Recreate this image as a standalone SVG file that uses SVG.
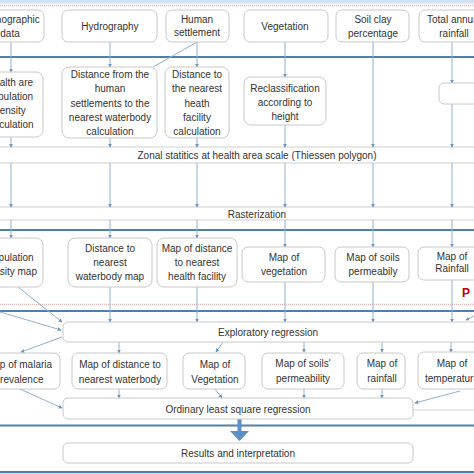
<svg xmlns="http://www.w3.org/2000/svg" width="474" height="474" viewBox="0 0 474 474">
<style>
.bg{fill:#ffffff}
.box{fill:#ffffff;stroke:#c8c8c8;stroke-width:1}
.bar{fill:#ffffff;stroke:#d0d0d0;stroke-width:1}
.div{stroke:#4f7fae;stroke-width:2;fill:none}
.dot{stroke:#d9b8b8;stroke-width:1.5;stroke-dasharray:1 1;fill:none}
.t{font-family:"Liberation Sans",Arial,sans-serif;font-size:10px;fill:#333333;text-anchor:middle}
.c{stroke:#8fb0d0;stroke-width:1;fill:none}
.ca{stroke:#8fb0d0;stroke-width:1;fill:none;marker-end:url(#ah)}
</style>
<defs>
<marker id="ah" viewBox="0 0 6 6" refX="5" refY="3" markerWidth="4" markerHeight="4" orient="auto">
<path d="M0,0 L6,3 L0,6 z" fill="#6f95bd"/>
</marker>
</defs>
<rect class="bg" x="0" y="0" width="474" height="474"/>
<rect x="0" y="0" width="474" height="3.5" fill="#d3e3f1"/>
<line class="dot" x1="0" y1="5.5" x2="474" y2="5.5"/>
<line class="div" x1="0" y1="57" x2="474" y2="57"/>
<line class="div" x1="0" y1="230" x2="474" y2="230"/>
<line class="dot" x1="0" y1="304.5" x2="474" y2="304.5"/>
<line class="div" x1="0" y1="311" x2="474" y2="311"/>
<line class="div" x1="0" y1="425.5" x2="474" y2="425.5"/>
<line class="div" x1="0" y1="472" x2="474" y2="472"/>
<rect x="0" y="473" width="474" height="1" fill="#d3e3f1"/>

<g id="zonal">
<rect class="bar" x="-5" y="147" width="484" height="16"/>
<text class="t" x="257" y="159">Zonal statitics at health area scale (Thiessen polygon)</text>
</g>
<g id="rasterization">
<rect class="bar" x="-5" y="207" width="484" height="13"/>
<text class="t" x="257" y="217.5">Rasterization</text>
</g>

<g id="connectors">
<line class="ca" x1="11" y1="42" x2="11" y2="72"/>
<line class="ca" x1="110" y1="42" x2="110" y2="67"/>
<line class="ca" x1="197" y1="42" x2="197" y2="67"/>
<line class="c" x1="197" y1="42" x2="153" y2="67"/>
<line class="ca" x1="285" y1="42" x2="285" y2="77"/>
<line class="ca" x1="373" y1="42" x2="373" y2="147"/>
<line class="ca" x1="452" y1="42" x2="452" y2="83"/>
<line class="ca" x1="452" y1="104" x2="452" y2="147"/>
<line class="ca" x1="11" y1="137" x2="11" y2="147"/>
<line class="ca" x1="110" y1="138" x2="110" y2="147"/>
<line class="ca" x1="197" y1="138" x2="197" y2="147"/>
<line class="ca" x1="285" y1="125" x2="285" y2="147"/>
<line class="ca" x1="11" y1="163" x2="11" y2="207"/>
<line class="ca" x1="110" y1="163" x2="110" y2="207"/>
<line class="ca" x1="197" y1="163" x2="197" y2="207"/>
<line class="ca" x1="285" y1="163" x2="285" y2="207"/>
<line class="ca" x1="373" y1="163" x2="373" y2="207"/>
<line class="ca" x1="452" y1="163" x2="452" y2="207"/>
<line class="ca" x1="11" y1="220" x2="11" y2="238"/>
<line class="ca" x1="110" y1="220" x2="110" y2="238"/>
<line class="ca" x1="197" y1="220" x2="197" y2="238"/>
<line class="ca" x1="285" y1="220" x2="285" y2="247"/>
<line class="ca" x1="373" y1="220" x2="373" y2="247"/>
<line class="ca" x1="452" y1="220" x2="452" y2="247"/>
<line class="ca" x1="110" y1="287" x2="110" y2="322"/>
<line class="ca" x1="197" y1="287" x2="197" y2="322"/>
<line class="ca" x1="285" y1="282" x2="285" y2="322"/>
<line class="ca" x1="373" y1="282" x2="373" y2="322"/>
<line class="ca" x1="452" y1="280" x2="452" y2="322"/>
<line class="ca" x1="18" y1="287" x2="62" y2="322"/>
<line class="ca" x1="0" y1="312" x2="61" y2="330"/>
<line class="ca" x1="476" y1="315" x2="466" y2="320"/>
<line class="ca" x1="62" y1="337" x2="21" y2="352"/>
<line class="ca" x1="119" y1="342" x2="119" y2="353"/>
<line class="ca" x1="223" y1="342" x2="216" y2="352"/>
<line class="ca" x1="304" y1="342" x2="304" y2="352"/>
<line class="ca" x1="382" y1="342" x2="382" y2="352"/>
<line class="ca" x1="451" y1="342" x2="451" y2="352"/>
<line class="ca" x1="20" y1="389" x2="62" y2="408"/>
<line class="ca" x1="119" y1="389" x2="119" y2="398"/>
<line class="ca" x1="215" y1="389" x2="222" y2="398"/>
<line class="ca" x1="304" y1="389" x2="304" y2="398"/>
<line class="ca" x1="382" y1="389" x2="382" y2="398"/>
<line class="ca" x1="460" y1="391" x2="415" y2="403"/>
<line x1="413" y1="410" x2="474" y2="410" stroke="#d0d0d0" stroke-width="1"/>
<path d="M237.5,419 h4 v12 h7.5 l-9.5,10 l-9.5,-10 h7.5 z" fill="#5b8fc7"/>
</g>

<g id="n-demographic">
<rect class="box" x="-25" y="10" width="69" height="32" rx="6"/>
<text class="t" x="10" y="23">Demographic</text>
<text class="t" x="10" y="36.5">data</text>
</g>
<g id="n-hydrography">
<rect class="box" x="62" y="10" width="95" height="32" rx="6"/>
<text class="t" x="110" y="30">Hydrography</text>
</g>
<g id="n-settlement">
<rect class="box" x="166" y="10" width="63" height="32" rx="6"/>
<text class="t" x="197" y="23">Human</text>
<text class="t" x="197" y="36">settlement</text>
</g>
<g id="n-vegetation">
<rect class="box" x="244" y="10" width="84" height="32" rx="6"/>
<text class="t" x="285" y="30">Vegetation</text>
</g>
<g id="n-soil">
<rect class="box" x="336" y="10" width="73" height="32" rx="6"/>
<text class="t" x="373" y="23">Soil clay</text>
<text class="t" x="373" y="37">percentage</text>
</g>
<g id="n-rainfall">
<rect class="box" x="419" y="10" width="75" height="32" rx="6"/>
<text class="t" x="454" y="23">Total annual</text>
<text class="t" x="454" y="37">rainfall</text>
</g>

<g id="n-density-calc">
<rect class="box" x="-25" y="72" width="68" height="65" rx="7"/>
<text class="t" x="10" y="85.5">Health are</text>
<text class="t" x="10" y="99.5">population</text>
<text class="t" x="10" y="113.5">density</text>
<text class="t" x="10" y="127.5">calculation</text>
</g>
<g id="n-dist-water-calc">
<rect class="box" x="62" y="67" width="95" height="71" rx="7"/>
<text class="t" x="110" y="77.5">Distance from the</text>
<text class="t" x="110" y="92">human</text>
<text class="t" x="110" y="106.5">settlements to  the</text>
<text class="t" x="110" y="120.5">nearest waterbody</text>
<text class="t" x="110" y="134.5">calculation</text>
</g>
<g id="n-dist-health-calc">
<rect class="box" x="165" y="67" width="64" height="71" rx="7"/>
<text class="t" x="197" y="77.5">Distance to</text>
<text class="t" x="197" y="92">the nearest</text>
<text class="t" x="197" y="106.5">heath</text>
<text class="t" x="197" y="120.5">facility</text>
<text class="t" x="197" y="134.5">calculation</text>
</g>
<g id="n-reclass">
<rect class="box" x="244" y="77" width="82" height="48" rx="7"/>
<text class="t" x="285" y="91.5">Reclassification</text>
<text class="t" x="285" y="105.5">according to</text>
<text class="t" x="285" y="119.5">height</text>
</g>
<g id="n-rain-proc">
<rect class="box" x="439" y="83" width="60" height="21" rx="5"/>
</g>

<g id="n-density-map">
<rect class="box" x="-25" y="238" width="68" height="49" rx="7"/>
<text class="t" x="10" y="260.5">Population</text>
<text class="t" x="10" y="274.5">density map</text>
</g>
<g id="n-water-map">
<rect class="box" x="68" y="238" width="84" height="49" rx="7"/>
<text class="t" x="110" y="251.5">Distance to</text>
<text class="t" x="110" y="265.5">nearest</text>
<text class="t" x="110" y="280">waterbody map</text>
</g>
<g id="n-health-map">
<rect class="box" x="157" y="238" width="80" height="49" rx="7"/>
<text class="t" x="197" y="251.5">Map of distance</text>
<text class="t" x="197" y="265.5">to nearest</text>
<text class="t" x="197" y="280">health facility</text>
</g>
<g id="n-veg-map">
<rect class="box" x="242" y="247" width="83" height="35" rx="6"/>
<text class="t" x="284" y="260.5">Map of</text>
<text class="t" x="284" y="274.5">vegetation</text>
</g>
<g id="n-soil-map">
<rect class="box" x="335" y="247" width="74" height="35" rx="6"/>
<text class="t" x="373" y="260.5">Map of soils</text>
<text class="t" x="373" y="274.5">permeabily</text>
</g>
<g id="n-rain-map">
<rect class="box" x="418" y="247" width="76" height="33" rx="6"/>
<text class="t" x="452" y="259.5">Map of</text>
<text class="t" x="452" y="272">Rainfall</text>
</g>
<text x="462" y="297" font-family="'Liberation Sans',Arial,sans-serif" font-size="12" font-weight="bold" fill="#c00000">P</text>

<g id="n-exploratory">
<rect class="box" x="63" y="322" width="430" height="20" rx="5"/>
<text class="t" x="268" y="335.5">Exploratory regression</text>
</g>

<g id="n-malaria">
<rect class="box" x="-20" y="353" width="80" height="36" rx="6"/>
<text class="t" x="19" y="367.5">Map of malaria</text>
<text class="t" x="19" y="382.5">prevalence</text>
</g>
<g id="n-water-map2">
<rect class="box" x="72" y="353" width="95" height="36" rx="6"/>
<text class="t" x="120" y="367.5">Map of distance to</text>
<text class="t" x="120" y="382.5">nearest waterbody</text>
</g>
<g id="n-veg-map2">
<rect class="box" x="183" y="353" width="62" height="36" rx="6"/>
<text class="t" x="215" y="367.5">Map of</text>
<text class="t" x="215" y="382.5">Vegetation</text>
</g>
<g id="n-soil-map2">
<rect class="box" x="262" y="353" width="82" height="36" rx="6"/>
<text class="t" x="303" y="366.5">Map of soils'</text>
<text class="t" x="303" y="381.5">permeability</text>
</g>
<g id="n-rain-map2">
<rect class="box" x="357" y="353" width="48" height="36" rx="6"/>
<text class="t" x="382" y="366.5">Map of</text>
<text class="t" x="382" y="381.5">rainfall</text>
</g>
<g id="n-temp-map">
<rect class="box" x="418" y="352" width="76" height="37" rx="6"/>
<text class="t" x="452" y="366.5">Map of</text>
<text class="t" x="452" y="381.5">temperature</text>
</g>

<g id="n-ols">
<rect class="box" x="63" y="398" width="350" height="21" rx="5"/>
<text class="t" x="238" y="413">Ordinary least square regression</text>
</g>
<g id="n-results">
<rect class="box" x="63" y="443" width="350" height="20" rx="5"/>
<text class="t" x="238" y="456.5">Results and interpretation</text>
</g>
</svg>
